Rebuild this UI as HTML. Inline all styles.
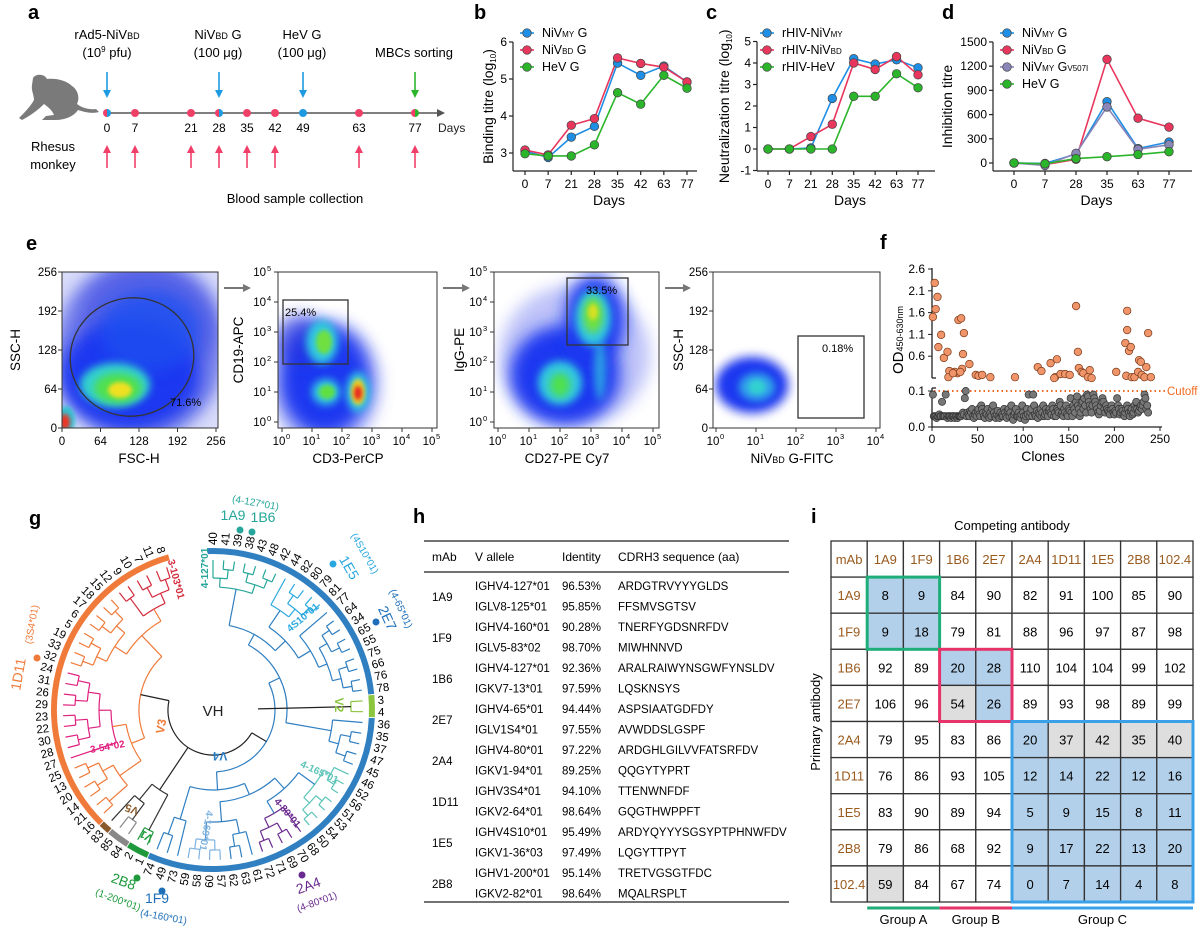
<!DOCTYPE html>
<html><head><meta charset="utf-8">
<style>
body{margin:0;background:#fff;}
svg{display:block;font-family:"Liberation Sans",Arial,sans-serif;}
.lt{font-weight:bold;font-size:20px;}
</style></head>
<body>
<svg id="fig" width="1200" height="929" viewBox="0 0 1200 929" xmlns="http://www.w3.org/2000/svg">
<defs>
<filter id="bl4" x="-50%" y="-50%" width="200%" height="200%"><feGaussianBlur stdDeviation="4"/></filter>
<filter id="bl8" x="-50%" y="-50%" width="200%" height="200%"><feGaussianBlur stdDeviation="8"/></filter>
<filter id="bl2" x="-50%" y="-50%" width="200%" height="200%"><feGaussianBlur stdDeviation="2"/></filter>
</defs>

<text class="lt" x="28" y="19">a</text>
<text class="lt" x="474" y="19">b</text>
<text class="lt" x="706" y="19">c</text>
<text class="lt" x="942" y="19">d</text>
<text class="lt" x="26" y="250">e</text>
<text class="lt" x="880" y="249">f</text>
<text class="lt" x="29" y="525">g</text>
<text class="lt" x="413" y="523">h</text>
<text class="lt" x="811" y="523">i</text>

<g id="panelA">
<path fill="#7a7a7a" d="M33,78 C36,73 45,74 47,79 C55,78 66,80 72,86 C78,90 80,98 77,104 C82,108 90,110 96,109 L99,112 C92,114 84,112 78,110 C74,116 66,120 55,120 L42,120 L46,116 L54,115 C52,110 48,107 44,104 C38,110 30,116 22,120 L19,118 C24,113 30,107 34,100 C34,95 31,90 32,85 Z"/>
<line x1="107" y1="113" x2="440" y2="113" stroke="#555" stroke-width="1.5"/>
<path d="M437,109 L445,113 L437,117 z" fill="#555"/>
<text x="438" y="132" font-size="12" fill="#222">Days</text>
<g id="aDays"></g>
<text x="107" y="39" font-size="13" text-anchor="middle">rAd5-NiV<tspan font-size="9">BD</tspan></text>
<text x="107" y="57" font-size="13" text-anchor="middle">(10<tspan font-size="8" dy="-5">9</tspan><tspan dy="5"> pfu)</tspan></text>
<text x="218" y="39" font-size="13" text-anchor="middle">NiV<tspan font-size="9">BD</tspan> G</text>
<text x="218" y="57" font-size="13" text-anchor="middle">(100 μg)</text>
<text x="302" y="39" font-size="13" text-anchor="middle">HeV G</text>
<text x="302" y="57" font-size="13" text-anchor="middle">(100 μg)</text>
<text x="414" y="57" font-size="13" text-anchor="middle">MBCs sorting</text>
<text x="53" y="151" font-size="13" text-anchor="middle">Rhesus</text>
<text x="53" y="169" font-size="13" text-anchor="middle">monkey</text>
<text x="295" y="203" font-size="13" text-anchor="middle">Blood sample collection</text>
</g>

<g id="panelB"></g>
<g id="panelC"></g>
<g id="panelD"></g>

<g id="panelE">
 <g>
  <clipPath id="c1"><rect x="62" y="272" width="156" height="156"/></clipPath>
  <g clip-path="url(#c1)">
   <rect x="62" y="272" width="156" height="156" fill="#3040e0" opacity="0.18"/>
   <ellipse cx="150" cy="320" rx="70" ry="60" fill="#2030e0" opacity="0.35" filter="url(#bl8)"/>
   <ellipse cx="140" cy="350" rx="85" ry="90" fill="#2030e0" opacity="0.55" filter="url(#bl8)"/>
   <ellipse cx="130" cy="375" rx="70" ry="55" fill="#1a38f0" filter="url(#bl8)"/>
   <ellipse cx="150" cy="330" rx="50" ry="40" fill="#1f50f0" opacity="0.8" filter="url(#bl8)"/>
   <ellipse cx="115" cy="385" rx="35" ry="22" fill="#30d0d0" filter="url(#bl4)"/>
   <ellipse cx="118" cy="388" rx="24" ry="15" fill="#50e050" filter="url(#bl4)"/>
   <ellipse cx="120" cy="390" rx="12" ry="8" fill="#f0e020" filter="url(#bl2)"/>
   <ellipse cx="66" cy="420" rx="9" ry="14" fill="#30c0d0" filter="url(#bl2)"/>
   <ellipse cx="65" cy="422" rx="5" ry="8" fill="#f03020" filter="url(#bl2)"/>
  </g>
  <rect x="62" y="272" width="156" height="156" fill="none" stroke="#333" stroke-width="1"/>
  <ellipse cx="132" cy="357" rx="62" ry="59" transform="rotate(-15 132 357)" fill="none" stroke="#333" stroke-width="1.3"/>
  <text x="170" y="406" font-size="11">71.6%</text>
 </g>
 <g>
  <clipPath id="c2"><rect x="278" y="272" width="159" height="156"/></clipPath>
  <g clip-path="url(#c2)">
   <ellipse cx="325" cy="385" rx="55" ry="65" fill="#2a3ae8" opacity="0.35" filter="url(#bl8)"/>
   <ellipse cx="325" cy="380" rx="45" ry="55" fill="#1a38f0" filter="url(#bl8)"/>
   <ellipse cx="300" cy="340" rx="25" ry="25" fill="#2030e0" opacity="0.7" filter="url(#bl8)"/>
   <ellipse cx="322" cy="342" rx="16" ry="22" fill="#30c8e0" filter="url(#bl4)"/>
   <ellipse cx="324" cy="342" rx="8" ry="12" fill="#70e040" filter="url(#bl2)"/>
   <ellipse cx="326" cy="392" rx="14" ry="13" fill="#30c8e0" filter="url(#bl4)"/>
   <ellipse cx="327" cy="392" rx="8" ry="7" fill="#60e040" filter="url(#bl2)"/>
   <ellipse cx="358" cy="392" rx="12" ry="20" fill="#30c8e0" filter="url(#bl4)"/>
   <ellipse cx="358" cy="392" rx="7" ry="13" fill="#e8d020" filter="url(#bl2)"/>
   <ellipse cx="358" cy="393" rx="4" ry="7" fill="#e82020" filter="url(#bl2)"/>
  </g>
  <rect x="278" y="272" width="159" height="156" fill="none" stroke="#333" stroke-width="1"/>
  <rect x="283" y="300" width="65" height="64" fill="none" stroke="#333" stroke-width="1.3"/>
  <text x="285" y="316" font-size="11">25.4%</text>
 </g>
 <g>
  <clipPath id="c3"><rect x="494" y="272" width="165" height="156"/></clipPath>
  <g clip-path="url(#c3)">
   <ellipse cx="575" cy="355" rx="75" ry="70" fill="#2a3ae8" opacity="0.3" filter="url(#bl8)"/>
   <ellipse cx="565" cy="375" rx="55" ry="50" fill="#1a38f0" filter="url(#bl8)"/>
   <ellipse cx="595" cy="320" rx="30" ry="45" fill="#1a38f0" filter="url(#bl8)"/>
   <ellipse cx="560" cy="383" rx="22" ry="22" fill="#30c8e0" filter="url(#bl4)"/>
   <ellipse cx="560" cy="385" rx="10" ry="12" fill="#50e050" filter="url(#bl4)"/>
   <ellipse cx="593" cy="318" rx="18" ry="28" fill="#30c8e0" filter="url(#bl4)"/>
   <ellipse cx="593" cy="315" rx="10" ry="18" fill="#70e040" filter="url(#bl4)"/>
   <ellipse cx="593" cy="312" rx="5" ry="8" fill="#d8e020" filter="url(#bl2)"/>
   <ellipse cx="600" cy="370" rx="6" ry="30" fill="#30c8e0" opacity="0.7" filter="url(#bl4)"/>
  </g>
  <rect x="494" y="272" width="165" height="156" fill="none" stroke="#333" stroke-width="1"/>
  <rect x="567" y="278" width="61" height="67" fill="none" stroke="#333" stroke-width="1.3"/>
  <text x="586" y="294" font-size="11">33.5%</text>
 </g>
 <g>
  <clipPath id="c4"><rect x="713" y="272" width="167" height="156"/></clipPath>
  <g clip-path="url(#c4)">
   <ellipse cx="752" cy="385" rx="40" ry="32" fill="#2a3ae8" opacity="0.35" filter="url(#bl4)"/>
   <ellipse cx="752" cy="385" rx="34" ry="26" fill="#1a38f0" filter="url(#bl4)"/>
   <ellipse cx="757" cy="387" rx="18" ry="14" fill="#30a8e8" filter="url(#bl4)"/>
   <ellipse cx="757" cy="387" rx="8" ry="7" fill="#30d0d0" filter="url(#bl2)"/>
  </g>
  <rect x="713" y="272" width="167" height="156" fill="none" stroke="#333" stroke-width="1"/>
  <rect x="798" y="336" width="66" height="82" fill="none" stroke="#333" stroke-width="1.3"/>
  <text x="822" y="352" font-size="11">0.18%</text>
 </g>
 <g id="eAxes"></g>
 <g fill="#777" stroke="#777" stroke-width="2">
  <line x1="224" y1="288" x2="244" y2="288"/><path d="M243,284 L251,288 L243,292 z" stroke="none"/>
  <line x1="443" y1="288" x2="463" y2="288"/><path d="M462,284 L470,288 L462,292 z" stroke="none"/>
  <line x1="665" y1="288" x2="684" y2="288"/><path d="M683,284 L691,288 L683,292 z" stroke="none"/>
 </g>
</g>

<g id="panelF"></g>
<g id="panelG"></g>
<g id="panelH"></g>
<g id="panelI"></g>
</svg>

<script>
const aSampleDays = [0, 7, 21, 28, 35, 42, 49, 63, 77];
const bDays = ['0','7','21','28','35','42','63','77'];
const bNiVMY = [3.05, 2.88, 3.43, 3.72, 5.43, 5.10, 5.35, 4.92];
const bNiVBD = [3.08, 2.95, 3.75, 3.93, 5.57, 5.42, 5.32, 4.92];
const bHeV = [2.98, 2.92, 2.92, 3.22, 4.63, 4.32, 5.10, 4.75];
const bTicks = [3, 4, 5, 6];
const cDays = ['0','7','21','28','35','42','63','77'];
const cNiVMY = [0, 0, 0.05, 2.35, 4.20, 3.95, 4.15, 3.78];
const cNiVBD = [0, 0, 0.58, 1.15, 4.00, 3.70, 4.30, 3.45];
const cHeV = [0, 0, 0, 0, 2.45, 2.45, 3.50, 2.85];
const cTicks = [-1, 0, 1, 2, 3, 4, 5];
const dDays = ['0','7','28','35','63','77'];
const dNiVMY = [0, -5, 110, 760, 180, 260];
const dNiVBD = [0, -20, 45, 1285, 555, 445];
const dV507I = [0, -30, 120, 695, 170, 225];
const dHeV = [0, -10, 55, 78, 105, 140];
const dTicks = [0, 300, 600, 900, 1200, 1500];
const fOrangeClones = [1,3,4,6,10,7,13,17,19,18,28,29,32,35,34,33,25,41,48,51,55,64,91,116,120,130,137,135,134,141,146,151,158,160,161,164,166,171,173,175,202,212,214,214,216,218,213,219,222,226,227,229,230,233,235,237,240,23,31];
const fOrangeOD = [1.50,2.28,1.68,1.96,1.09,0.81,0.56,0.70,0.26,0.12,0.21,1.43,1.47,1.13,0.65,0.31,0.24,0.42,0.17,0.15,0.17,0.12,0.12,0.35,0.26,0.44,0.53,0.12,0.10,0.19,0.19,0.17,1.75,0.70,0.33,0.24,0.21,0.12,0.28,0.10,0.24,0.90,1.64,1.20,0.72,0.81,0.15,0.12,0.12,0.24,0.51,0.47,0.17,0.12,0.35,1.13,0.12,0.21,0.24];
const fGrayOD = [0.09,0.03,0.03,0.03,0.025,0.03,0.03,0.035,0.03,0.03,0.07,0.03,0.03,0.03,0.09,0.03,0.025,0.03,0.03,0.03,0.025,0.03,0.03,0.03,0.025,0.03,0.03,0.025,0.03,0.03,0.03,0.03,0.035,0.04,0.035,0.08,0.1,0.03,0.04,0.035,0.03,0.045,0.04,0.05,0.03,0.025,0.035,0.04,0.03,0.045,0.05,0.035,0.03,0.06,0.05,0.04,0.03,0.025,0.04,0.035,0.05,0.03,0.025,0.04,0.03,0.05,0.06,0.04,0.03,0.025,0.035,0.045,0.03,0.025,0.04,0.03,0.035,0.03,0.05,0.04,0.03,0.025,0.045,0.05,0.03,0.04,0.06,0.03,0.02,0.035,0.04,0.05,0.03,0.03,0.04,0.03,0.025,0.035,0.06,0.04,0.03,0.02,0.03,0.05,0.035,0.09,0.03,0.04,0.05,0.03,0.09,0.06,0.035,0.03,0.045,0.025,0.04,0.035,0.05,0.03,0.04,0.06,0.03,0.035,0.05,0.04,0.03,0.045,0.05,0.04,0.035,0.06,0.05,0.03,0.04,0.03,0.05,0.045,0.04,0.07,0.06,0.035,0.04,0.03,0.05,0.04,0.06,0.035,0.03,0.05,0.045,0.08,0.04,0.03,0.06,0.05,0.04,0.07,0.085,0.06,0.05,0.03,0.04,0.065,0.07,0.05,0.08,0.06,0.04,0.09,0.085,0.07,0.06,0.05,0.04,0.06,0.09,0.08,0.07,0.06,0.05,0.04,0.035,0.045,0.06,0.07,0.08,0.07,0.05,0.04,0.06,0.05,0.045,0.04,0.035,0.05,0.06,0.05,0.04,0.035,0.045,0.04,0.08,0.06,0.05,0.035,0.04,0.05,0.045,0.035,0.03,0.04,0.05,0.06,0.05,0.04,0.03,0.045,0.05,0.035,0.04,0.06,0.05,0.07,0.05,0.04,0.045,0.055,0.06,0.05,0.06,0.07,0.09,0.08,0.05,0.06,0.04];
const fUpperTicks = [0.6, 1.1, 1.6, 2.1, 2.6];
const fXTicks = [0, 50, 100, 150, 200, 250];
const gLeaves = ['8','11','7','10','9','12','15','18','17','6','5','19','33','32','24','31','26','29','23','22','30','28','27','25','13','20','14','21','16','83','85','84','2','1','74','49','73','59','58','60','57','62','63','61','72','71','69','70','68','50','54','53','51','56','52','46','45','47','37','35','36','4','3','78','76','66','75','55','65','34','64','77','81','79','80','82','44','42','48','43','38','39','41','40'];
const hRows = [
 ['1A9','IGHV4-127*01','96.53%','ARDGTRVYYYGLDS'],['','IGLV8-125*01','95.85%','FFSMVSGTSV'],
 ['1F9','IGHV4-160*01','90.28%','TNERFYGDSNRFDV'],['','IGLV5-83*02','98.70%','MIWHNNVD'],
 ['1B6','IGHV4-127*01','92.36%','ARALRAIWYNSGWFYNSLDV'],['','IGKV7-13*01','97.59%','LQSKNSYS'],
 ['2E7','IGHV4-65*01','94.44%','ASPSIAATGDFDY'],['','IGLV1S4*01','97.55%','AVWDDSLGSPF'],
 ['2A4','IGHV4-80*01','97.22%','ARDGHLGILVVFATSRFDV'],['','IGKV1-94*01','89.25%','QQGYTYPRT'],
 ['1D11','IGHV3S4*01','94.10%','TTENWNFDF'],['','IGKV2-64*01','98.64%','GQGTHWPPFT'],
 ['1E5','IGHV4S10*01','95.49%','ARDYQYYYSGSYPTPHNWFDV'],['','IGKV1-36*03','97.49%','LQGYTTPYT'],
 ['2B8','IGHV1-200*01','95.14%','TRETVGSGTFDC'],['','IGKV2-82*01','98.64%','MQALRSPLT']];
const iAbs = ['1A9','1F9','1B6','2E7','2A4','1D11','1E5','2B8','102.4'];
const iValues = [
 [8,9,84,90,82,91,100,85,90],
 [9,18,79,81,88,96,97,87,98],
 [92,89,20,28,110,104,104,99,102],
 [106,96,54,26,89,93,98,89,99],
 [79,95,83,86,20,37,42,35,40],
 [76,86,93,105,12,14,22,12,16],
 [83,90,89,94,5,9,15,8,11],
 [79,86,68,92,9,17,22,13,20],
 [59,84,67,74,0,7,14,4,8]];

const NS = 'http://www.w3.org/2000/svg';
function mk(parent, tag, attrs, text){
  const el = document.createElementNS(NS, tag);
  for (const k in attrs) el.setAttribute(k, attrs[k]);
  if (text !== undefined) el.textContent = text;
  parent.appendChild(el);
  return el;
}
const BLUE='#1f8fe5', RED='#e8365d', GREEN='#2bb52b', PURP='#8a86b8';

(function(){
  const g = document.getElementById('aDays');
  const xa = d => 107 + d * 4.0;
  aSampleDays.forEach(d=>{
    const t = mk(g,'text',{x:xa(d),y:132,'font-size':12,'text-anchor':'middle'}, String(d));
    
    
  });
  const blood = [0,7,21,28,35,42,63,77];
  blood.forEach(d=>{
    mk(g,'line',{x1:xa(d),y1:168,x2:xa(d),y2:152,stroke:'#f0406a','stroke-width':1.6});
    const p = mk(g,'path',{d:`M${xa(d)-4},153 L${xa(d)},145 L${xa(d)+4},153 z`,fill:'#f0406a'});
    
    
  });
  [[0,'#1e9be0'],[28,'#1e9be0'],[49,'#1e9be0'],[77,'#2bb52b']].forEach(([d,c])=>{
    mk(g,'line',{x1:xa(d),y1:72,x2:xa(d),y2:92,stroke:c,'stroke-width':1.6});
    const p = mk(g,'path',{d:`M${xa(d)-4},90 L${xa(d)},98 L${xa(d)+4},90 z`,fill:c});
    
    
  });
  aSampleDays.forEach(d=>{
    const x = xa(d);
    let right = '#f0406a', left = '#f0406a';
    if (d===0||d===28){ right='#1e9be0'; }
    if (d===49){ left=right='#1e9be0'; }
    if (d===77){ right='#2bb52b'; }
    mk(g,'path',{d:`M${x},109 A4,4 0 0 0 ${x},117 z`,fill:left});
    const c = mk(g,'path',{d:`M${x},109 A4,4 0 0 1 ${x},117 z`,fill:right});
    
    
  });
})();

function lineChart(gid, cfg){
  const g = document.getElementById(gid);
  const {ax, x0, step, axEnd, yOf, ticks, cats, series, title, titleX, legend} = cfg;
  mk(g,'line',{x1:ax,y1:yOf(ticks[ticks.length-1]),x2:ax,y2:171,stroke:'#222','stroke-width':1.2});
  mk(g,'line',{x1:ax,y1:171,x2:axEnd,y2:171,stroke:'#222','stroke-width':1.2});
  ticks.forEach(v=>{
    mk(g,'line',{x1:ax-4,y1:yOf(v),x2:ax,y2:yOf(v),stroke:'#222','stroke-width':1.2});
    const t = mk(g,'text',{x:ax-6,y:yOf(v)+4,'font-size':12,'text-anchor':'end'}, String(v));
    
    
  });
  cats.forEach((c,i)=>{
    const x = x0 + i*step;
    mk(g,'line',{x1:x,y1:171,x2:x,y2:175,stroke:'#222','stroke-width':1.2});
    const t = mk(g,'text',{x:x,y:188,'font-size':12,'text-anchor':'middle'}, c);
    
    
  });
  const xt = mk(g,'text',{x:(ax+axEnd)/2+4,y:205,'font-size':14,'text-anchor':'middle'},'Days');
  
  
  const cy=(yOf(ticks[ticks.length-1])+171)/2;
  const yt = mk(g,'text',{x:titleX,y:cy,'font-size':14,'text-anchor':'middle',transform:`rotate(-90 ${titleX} ${cy})`});
  yt.innerHTML = title;
  
  
  series.forEach(s=>{
    const pts = s.vals.map((v,i)=>[x0+i*step, yOf(v)]);
    const pl = mk(g,'polyline',{points:pts.map(p=>p.join(',')).join(' '),fill:'none',stroke:s.color,'stroke-width':1.6});
    
    
  });
  series.forEach(s=>{
    s.vals.forEach((v,i)=>{
      const c = mk(g,'circle',{cx:x0+i*step,cy:yOf(v),r:4.3,fill:s.color,stroke:'#444','stroke-width':0.7});
      
      
    });
  });
  series.forEach((s,k)=>{
    const y = 33 + k*17;
    mk(g,'line',{x1:legend.x-7,y1:y,x2:legend.x+7,y2:y,stroke:s.color,'stroke-width':1.6});
    mk(g,'circle',{cx:legend.x,cy:y,r:4.3,fill:s.color,stroke:'#444','stroke-width':0.7});
    const t = mk(g,'text',{x:legend.x+15,y:y+4,'font-size':12.5});
    t.innerHTML = s.label;
    
    
  });
}
lineChart('panelB',{ax:513,x0:525,step:23.14,axEnd:697,yOf:v=>153-(v-3)*37,ticks:bTicks,cats:bDays,
  titleX:493,title:'Binding titre (log<tspan font-size="8" dy="3">10</tspan><tspan dy="-3">)</tspan>',legend:{x:527},
  series:[{vals:bNiVMY,color:BLUE,label:'NiV<tspan font-size="8">MY</tspan> G'},{vals:bNiVBD,color:RED,label:'NiV<tspan font-size="8">BD</tspan> G'},{vals:bHeV,color:GREEN,label:'HeV G'}]});
lineChart('panelC',{ax:757,x0:768,step:21.43,axEnd:935,yOf:v=>149-v*21.5,ticks:cTicks,cats:cDays,
  titleX:729,title:'Neutralization titre (log<tspan font-size="8" dy="3">10</tspan><tspan dy="-3">)</tspan>',legend:{x:767},
  series:[{vals:cNiVMY,color:BLUE,label:'rHIV-NiV<tspan font-size="8">MY</tspan>'},{vals:cNiVBD,color:RED,label:'rHIV-NiV<tspan font-size="8">BD</tspan>'},{vals:cHeV,color:GREEN,label:'rHIV-HeV'}]});
lineChart('panelD',{ax:993,x0:1014,step:31,axEnd:1192,yOf:v=>163-v*0.0807,ticks:dTicks,cats:dDays,
  titleX:952,title:'Inhibition titre',legend:{x:1007},
  series:[{vals:dNiVMY,color:BLUE,label:'NiV<tspan font-size="8">MY</tspan> G'},{vals:dNiVBD,color:RED,label:'NiV<tspan font-size="8">BD</tspan> G'},{vals:dV507I,color:PURP,label:'NiV<tspan font-size="8">MY</tspan> G<tspan font-size="8">V507I</tspan>'},{vals:dHeV,color:GREEN,label:'HeV G'}]});

(function(){
  const g = document.getElementById('eAxes');
  function linY(x, labels){ labels.forEach((l,i)=>{ const y=428-i*39; mk(g,'line',{x1:x-4,y1:y,x2:x,y2:y,stroke:'#333'});
    const t=mk(g,'text',{x:x-5,y:y+4,'font-size':11.5,'text-anchor':'end'},l);  });}
  function logY(x){ for(let i=0;i<=5;i++){ const y=422-i*30; mk(g,'line',{x1:x-4,y1:y,x2:x,y2:y,stroke:'#333'});
    const t=mk(g,'text',{x:x-12,y:y+4,'font-size':11.5,'text-anchor':'end'},'10');  
    mk(g,'text',{x:x-11,y:y-1,'font-size':7.5},String(i)); } }
  function logX(x0,step,n){ for(let i=0;i<n;i++){ const x=x0+i*step; mk(g,'line',{x1:x,y1:428,x2:x,y2:432,stroke:'#333'});
    const t=mk(g,'text',{x:x-3,y:445,'font-size':11.5,'text-anchor':'middle'},'10');  
    mk(g,'text',{x:x+4,y:439,'font-size':7.5},String(i)); } }
  linY(62,['0','64','128','192','256']);
  ['0','64','128','192','256'].forEach((l,i)=>{ const x=62+i*38.5; mk(g,'line',{x1:x,y1:428,x2:x,y2:432,stroke:'#333'});
    const t=mk(g,'text',{x:x,y:445,'font-size':11.5,'text-anchor':'middle'},l);  });
  logY(278); logX(282,30,6);
  logY(494); logX(498,31,6);
  linY(713,['0','64','128','192','256']); logX(716,40,5);
  const titles=[[139,463,'FSC-H',0],[348,463,'CD3-PerCP',0],[567,463,'CD27-PE Cy7',0],[20,350,'SSC-H',1],[243,350,'CD19-APC',1],[464,350,'IgG-PE',1],[683,350,'SSC-H',1]];
  titles.forEach(([x,y,s,r])=>{ const t=mk(g,'text',{x:x,y:y,'font-size':13.5,'text-anchor':'middle'},s);
    if(r) t.setAttribute('transform',`rotate(-90 ${x} ${y})`);
     });
  const t=mk(g,'text',{x:792,y:463,'font-size':13.5,'text-anchor':'middle'}); t.innerHTML='NiV<tspan font-size="9">BD</tspan> G-FITC';
   
})();

(function(){
  const g = document.getElementById('panelF');
  const xf = c => 932 + c*0.912;
  const yUp = v => 378 - (v-0.1)*43.6;
  const yLo = v => 427 - v*360;
  mk(g,'line',{x1:932,y1:268,x2:932,y2:378,stroke:'#222','stroke-width':1.3});
  mk(g,'line',{x1:932,y1:378,x2:936,y2:378,stroke:'#222','stroke-width':1.3});
  mk(g,'line',{x1:932,y1:388,x2:932,y2:427,stroke:'#222','stroke-width':1.3});
  mk(g,'line',{x1:932,y1:388,x2:936,y2:388,stroke:'#222','stroke-width':1.3});
  mk(g,'line',{x1:932,y1:427,x2:1162,y2:427,stroke:'#222','stroke-width':1.3});
  fUpperTicks.forEach(v=>{ mk(g,'line',{x1:928,y1:yUp(v),x2:932,y2:yUp(v),stroke:'#222'});
    const t=mk(g,'text',{x:925,y:yUp(v)+4,'font-size':12,'text-anchor':'end'},v.toFixed(1));  });
  [0,0.1].forEach(v=>{ mk(g,'line',{x1:928,y1:yLo(v),x2:932,y2:yLo(v),stroke:'#222'});
    const t=mk(g,'text',{x:925,y:yLo(v)+4,'font-size':12,'text-anchor':'end'},v.toFixed(1));  });
  fXTicks.forEach(v=>{ mk(g,'line',{x1:xf(v),y1:427,x2:xf(v),y2:431,stroke:'#222'});
    const t=mk(g,'text',{x:xf(v),y:443,'font-size':12,'text-anchor':'middle'},String(v));  });
  const xt=mk(g,'text',{x:1043,y:461,'font-size':14,'text-anchor':'middle'},'Clones');
   
  const yt=mk(g,'text',{x:903,y:340,'font-size':15,'text-anchor':'middle',transform:'rotate(-90 903 340)'});
  yt.innerHTML='OD<tspan font-size="9">450-630nm</tspan>';
   
  const cut=mk(g,'line',{x1:934,y1:yLo(0.1),x2:1165,y2:yLo(0.1),stroke:'#f06a20','stroke-width':2,'stroke-dasharray':'1.5,3'});
   
  const ct=mk(g,'text',{x:1167,y:yLo(0.1)+4,'font-size':11.5,fill:'#f06a20'},'Cutoff');
   
  fGrayOD.forEach((v,i)=>{ const c=mk(g,'circle',{cx:xf(i+1),cy:yLo(v),r:3.6,fill:'#777',stroke:'#333','stroke-width':0.7});
     });
  fOrangeClones.forEach((cl,i)=>{ const c=mk(g,'circle',{cx:xf(cl),cy:yUp(fOrangeOD[i]),r:3.8,fill:'#f0956a',stroke:'#7a3a1a','stroke-width':0.7});
     });
})();

(function(){
  const g = document.getElementById('panelG');
  const cx=213, cy=710, R=150, n=gLeaves.length;
  const ang = i => 252 - i*(342/(n-1));
  const P = (r,a)=>[cx+r*Math.cos(a*Math.PI/180), cy+r*Math.sin(a*Math.PI/180)];
  function arc(r,a1,a2,col,w){ const lo=Math.min(a1,a2), hi=Math.max(a1,a2);
    const [x1,y1]=P(r,lo),[x2,y2]=P(r,hi);
    return mk(g,'path',{d:`M${x1},${y1} A${r},${r} 0 ${hi-lo>180?1:0} 1 ${x2},${y2}`,fill:'none',stroke:col,'stroke-width':w||1.2}); }
  function rad(a,r1,r2,col){ const [x1,y1]=P(r1,a),[x2,y2]=P(r2,a); return mk(g,'line',{x1,y1,x2,y2,stroke:col,'stroke-width':1.2}); }
  function build(nodes,col,step){ while(nodes.length>1){ const nx=[]; for(let i=0;i<nodes.length;i+=2){ if(i+1>=nodes.length){nx.push(nodes[i]);continue;}
      const a=nodes[i],b=nodes[i+1]; const r=Math.min(a.r,b.r)-step; rad(a.a,a.r,r,col); rad(b.a,b.r,r,col); arc(r,a.a,b.a,col); nx.push({a:(a.a+b.a)/2,r:r}); } nodes=nx; } return nodes[0]; }
  const leafNodes=(s,e)=>{const r=[];for(let i=s;i<=e;i++)r.push({a:ang(i),r:R});return r;};
  const clade=(s,e,col,step)=>build(leafNodes(s,e),col,step);
  const V3='#f07a3a';
  const r1=clade(0,5,'#d42a3c',11), r2=clade(6,13,V3,11), r3=clade(14,22,'#e0207f',12), r4=clade(23,28,V3,12);
  const v3=build([r1,r2,r3,r4],V3,14);
  const brown=clade(29,29,'#8a5a2a',0), gray=clade(30,31,'#888',14), v1=clade(32,33,'#1e9a3c',14);
  const bl='#2f7fc1';
  const b1=clade(34,36,bl,18), lb=clade(37,40,'#7fb3e0',10), b2=clade(41,43,bl,12), pu=clade(44,48,'#6a2a8f',10),
        te=clade(49,55,'#5cc4b8',8), b3=clade(56,60,bl,10), v2=clade(61,62,'#8cc63f',12),
        b4=clade(63,71,bl,9), lb2=clade(72,76,'#29a8e0',10), te2=clade(77,83,'#26a69a',9);
  const v4a=build([lb,b2,pu,te],bl,14);
  const v4b=build([b3],bl,0);
  const v4c=build([b4,lb2,te2],bl,14);
  const v4=build([b1,v4a,v4b,v4c],bl,12);
  const minor=build([brown,gray,v1],'#333',20);
  [v3,minor,v4,v2].forEach(nd=>rad(nd.a,nd.r,45,'#222'));
  arc(45,v4.a,v3.a,'#222',1.2);
  const segs=[[0,28,V3,6],[29,29,'#8a5a2a',6],[30,31,'#888',6],[32,33,'#1e9a3c',6],[34,60,bl,6],[61,62,'#8cc63f',6],[63,83,bl,6]];
  segs.forEach(([s,e,c,w])=>{ const half=1.9; const p=arc(159,ang(s)+half,ang(e)-half,c,w);
     });
  gLeaves.forEach((l,i)=>{ const a=ang(i); const [x,y]=P(165,a); let rot=a, anchor='start';
    const na=((a%360)+360)%360; if(na>90&&na<270){rot=a+180;anchor='end';}
    const t=mk(g,'text',{x:x,y:y+4,'font-size':11.5,'text-anchor':anchor,transform:`rotate(${rot} ${x} ${y})`},l);
     });
  const labs=[[213,716,'VH',15,'#222',0],[173,580,'3-103*01',10,'#d42a3c',75],[108,750,'3-54*02',10,'#e0207f',-10],[165,727,'V3',12,V3,-80],
    [220,752,'V4',12,bl,180],[133,806,'V5',11,'#8a5a2a',200],[148,833,'V1',11,'#1e9a3c',210],[335,705,'V2',12,'#8cc63f',90],
    [208,568,'4-127*01',10,'#26a69a',-90],[305,620,'4S10*01',10,'#29a8e0',-40],[318,775,'4-165*01',10,'#5cc4b8',25],
    [285,815,'4-80*01',10,'#6a2a8f',50],[203,830,'4-169*01',10,'#7fb3e0',100],
    [233,520,'1A9',14,'#26a69a',0],[263,522,'1B6',14,'#26a69a',0],[255,506,'(4-127*01)',10,'#26a69a',10],
    [345,570,'1E5',14,'#29a8e0',60],[362,555,'(4S10*01)',10,'#29a8e0',60],[383,620,'2E7',14,'#1f6fb8',65],[398,610,'(4-65*01)',10,'#1f6fb8',65],
    [310,890,'2A4',14,'#6a2a8f',-20],[318,905,'(4-80*01)',10,'#6a2a8f',-20],[157,903,'1F9',14,'#1f6fb8',0],[163,920,'(4-160*01)',10,'#1f6fb8',10],
    [122,886,'2B8',14,'#1e9a3c',20],[117,903,'(1-200*01)',10,'#1e9a3c',20],[23,675,'1D11',14,V3,-80],[35,625,'(3S4*01)',10,V3,-80]];
  labs.forEach(([x,y,s,fs,c,r])=>{ const t=mk(g,'text',{x:x,y:y,'font-size':fs,fill:c,'text-anchor':'middle',transform:`rotate(${r} ${x} ${y})`,'font-weight':fs<=12&&s.indexOf('(')<0&&s!=='VH'?'bold':'normal'},s);
     });
  [[240,530,'#26a69a'],[252,532,'#26a69a'],[333,564,'#29a8e0'],[376,622,'#1f6fb8'],[302,875,'#6a2a8f'],[162,891,'#1f6fb8'],[137,878,'#1e9a3c'],[37,658,V3]].forEach(([x,y,c])=>{
    const d=mk(g,'circle',{cx:x,cy:y,r:3.5,fill:c});  });
})();

(function(){
  const g = document.getElementById('panelH');
  mk(g,'line',{x1:424,y1:541,x2:789,y2:541,stroke:'#444','stroke-width':1.5});
  mk(g,'line',{x1:424,y1:572,x2:789,y2:572,stroke:'#444','stroke-width':1.5});
  mk(g,'line',{x1:424,y1:902,x2:789,y2:902,stroke:'#444','stroke-width':1.5});
  const cols=[432,475,562,618];
  ['mAb','V allele','Identity','CDRH3 sequence (aa)'].forEach((h,i)=>{ const t=mk(g,'text',{x:cols[i],y:561,'font-size':12},h);
     });
  hRows.forEach((r,k)=>{ const y=590+k*20.5;
    if(r[0]){ const t=mk(g,'text',{x:cols[0],y:y+11,'font-size':11.5},r[0]);   }
    for(let j=1;j<4;j++){ const t=mk(g,'text',{x:cols[j],y:y,'font-size':11.5},r[j]);   }
  });
})();

(function(){
  const g = document.getElementById('panelI');
  const L=831, T=541, W=36.2, H=36.1;
  const brown='#9a5a1e';
  const t0=mk(g,'text',{x:1012,y:530,'font-size':13,'text-anchor':'middle'},'Competing antibody');
   
  const t1=mk(g,'text',{x:820,y:722,'font-size':13,'text-anchor':'middle',transform:'rotate(-90 820 722)'},'Primary antibody');
   
  const grayCells=[[3,2],[4,5],[4,6],[4,7],[4,8],[8,0]];
  iValues.forEach((row,r)=>row.forEach((v,c)=>{
    const x=L+(c+1)*W, y=T+(r+1)*H;
    let fill='#fff';
    if((r<2&&c<2)||(r>=2&&r<4&&c>=2&&c<4)||(r>=4&&c>=4)) fill='#b3d0ea';
    if(grayCells.some(p=>p[0]===r&&p[1]===c)) fill='#dedede';
    const cell=mk(g,'rect',{x:x,y:y,width:W,height:H,fill:fill,stroke:'#333','stroke-width':1.3});
     
    const t=mk(g,'text',{x:x+W/2,y:y+H/2+5,'font-size':13,'text-anchor':'middle'},String(v));
     
  }));
  mk(g,'rect',{x:L,y:T,width:W,height:H,fill:'#fff',stroke:'#333','stroke-width':1.3});
  mk(g,'text',{x:L+W/2,y:T+H/2+5,'font-size':13,'text-anchor':'middle',fill:brown},'mAb');
  iAbs.forEach((a,i)=>{
    mk(g,'rect',{x:L+(i+1)*W,y:T,width:W,height:H,fill:'#fff',stroke:'#333','stroke-width':1.3});
    const th=mk(g,'text',{x:L+(i+1.5)*W,y:T+H/2+5,'font-size':13,'text-anchor':'middle',fill:brown},a);
     
    mk(g,'rect',{x:L,y:T+(i+1)*H,width:W,height:H,fill:'#fff',stroke:'#333','stroke-width':1.3});
    const rh=mk(g,'text',{x:L+W/2,y:T+(i+1.5)*H+5,'font-size':13,'text-anchor':'middle',fill:brown},a);
     
  });
  const boxes=[[1,1,2,2,'#1fae7a','group-a-box'],[3,3,2,2,'#e8336a','group-b-box'],[5,5,5,5,'#3aa0e8','group-c-box']];
  boxes.forEach(([c,r,w,h,col,nm])=>{ const b=mk(g,'rect',{x:L+c*W,y:T+r*H,width:w*W,height:h*H,fill:'none',stroke:col,'stroke-width':3});
     });
  const gl=[[1,3,'#1fae7a','Group A'],[3,5,'#e8336a','Group B'],[5,10,'#3aa0e8','Group C']];
  gl.forEach(([a,b,col,s])=>{ mk(g,'line',{x1:L+a*W,y1:908,x2:L+b*W,y2:908,stroke:col,'stroke-width':3});
    const t=mk(g,'text',{x:L+(a+b)/2*W,y:924,'font-size':13,'text-anchor':'middle'},s);
     });
})();
</script>
</body></html>
